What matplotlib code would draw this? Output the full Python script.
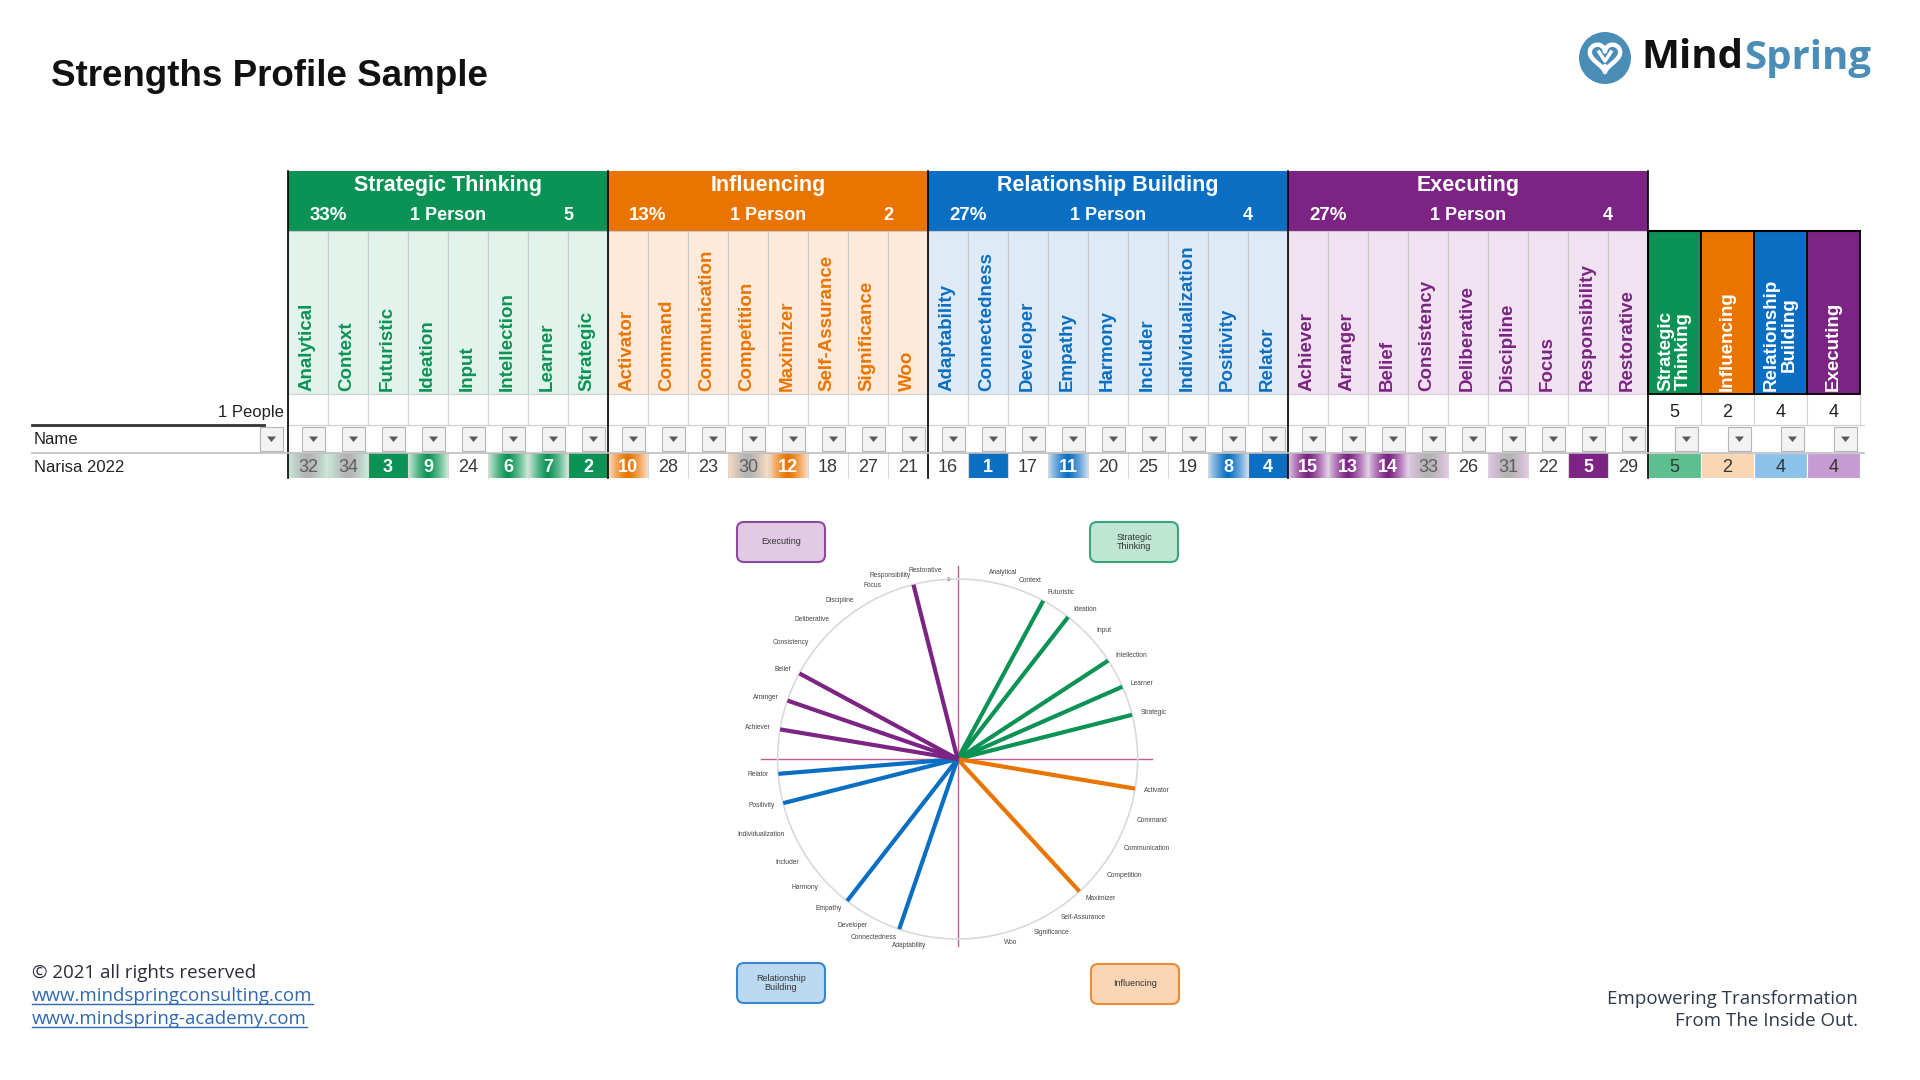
import numpy as np
import matplotlib.pyplot as plt
from matplotlib.patches import Rectangle, FancyBboxPatch, Circle, Polygon
from matplotlib.colors import LinearSegmentedColormap

# ---- data ----
groups = ['Strategic Thinking', 'Influencing', 'Relationship Building', 'Executing']
group_pct = ['33%', '13%', '27%', '27%']
group_people = ['1 Person', '1 Person', '1 Person', '1 Person']
group_counts = [5, 2, 4, 4]
summary_labels = ['Strategic\nThinking', 'Influencing', 'Relationship\nBuilding', 'Executing']

st_themes = ['Analytical', 'Context', 'Futuristic', 'Ideation', 'Input', 'Intellection', 'Learner', 'Strategic']
in_themes = ['Activator', 'Command', 'Communication', 'Competition', 'Maximizer', 'Self-Assurance',
             'Significance', 'Woo']
rb_themes = ['Adaptability', 'Connectedness', 'Developer', 'Empathy', 'Harmony', 'Includer',
             'Individualization', 'Positivity', 'Relator']
ex_themes = ['Achiever', 'Arranger', 'Belief', 'Consistency', 'Deliberative', 'Discipline', 'Focus',
             'Responsibility', 'Restorative']

st_ranks = [32, 34, 3, 9, 24, 6, 7, 2]
in_ranks = [10, 28, 23, 30, 12, 18, 27, 21]
rb_ranks = [16, 1, 17, 11, 20, 25, 19, 8, 4]
ex_ranks = [15, 13, 14, 33, 26, 31, 22, 5, 29]

person_name = 'Narisa 2022'
people_label = '1 People'

themes = [st_themes, in_themes, rb_themes, ex_themes]
ranks = [st_ranks, in_ranks, rb_ranks, ex_ranks]

# ---- style ----
colors = ['#0b9355', '#e97400', '#0a6fc2', '#7b2483']
light = ['#e1f3ea', '#fdeadb', '#deebf7', '#f0e2f0']
edge_tint = ['#c9e9d8', '#fbdcc0', '#c6dcf2', '#e3c6e6']
summ_fill = ['#5dbf8f', '#fad6b3', '#8dc2ea', '#c59bd1']
box_fill = ['#bfe5d3', '#fbd6b4', '#bcd9f2', '#e2c9e6']
box_edge = ['#3aa57a', '#e88b3a', '#3a86c8', '#8e4a9a']

ARIAL = ['Liberation Sans', 'DejaVu Sans']
WEB = ['Open Sans', 'DejaVu Sans']

fig = plt.figure(figsize=(19.2, 10.8), dpi=100)
ax = fig.add_axes([0, 0, 1, 1])
ax.axis('off')

# layout (pixels)
X0, CW, SW = 288, 40, 53
Y_H0, Y_H1, Y_T1, Y_P1, Y_D1, Y_R1 = 171, 231, 394, 425, 453, 478


def gradient(x, y, w, h, c_center, c_edge):
    # colour strongest in the middle, fading to a tint at both sides
    cmap = LinearSegmentedColormap.from_list('g', [c_center, c_edge])
    t = np.linspace(-1, 1, 64)
    ax.imshow(np.abs(t)[None, :] ** 1.3, extent=(x, x + w, y + h, y), cmap=cmap, vmin=0, vmax=1,
              aspect='auto', interpolation='bilinear', zorder=1)


def dropdown(x1, y0):
    bx0, bw, bh = x1 - 26, 23, 24
    ax.add_patch(Rectangle((bx0, y0 + 2), bw, bh, facecolor='#f3f3f3', edgecolor='#b5b5b5', lw=0.8, zorder=3))
    cx, cy = bx0 + bw / 2, y0 + 2 + bh / 2
    ax.add_patch(Polygon([[cx - 4.5, cy - 2.5], [cx + 4.5, cy - 2.5], [cx, cy + 3]], closed=True,
                         facecolor='#5a5a5a', edgecolor='none', zorder=4))


col = 0
for g in range(4):
    n = len(themes[g])
    gx0 = X0 + col * CW
    gx1 = gx0 + n * CW
    ax.add_patch(Rectangle((gx0, Y_H0), n * CW, Y_H1 - Y_H0, facecolor=colors[g], edgecolor='none', zorder=1))
    ax.text((gx0 + gx1) / 2, 185, groups[g], ha='center', va='center', color='white', fontsize=15.5,
            fontweight='bold', family=ARIAL, zorder=5)
    ax.text(gx0 + 40, 215, group_pct[g], ha='center', va='center', color='white', fontsize=13.5,
            fontweight='bold', family=ARIAL, zorder=5)
    ax.text((gx0 + gx1) / 2, 215, group_people[g], ha='center', va='center', color='white', fontsize=13,
            fontweight='bold', family=ARIAL, zorder=5)
    ax.text(gx1 - 40, 215, str(group_counts[g]), ha='center', va='center', color='white', fontsize=13,
            fontweight='bold', family=ARIAL, zorder=5)
    for j, (name, rk) in enumerate(zip(themes[g], ranks[g])):
        x = gx0 + j * CW
        ax.add_patch(Rectangle((x, Y_H1), CW, Y_T1 - Y_H1, facecolor=light[g], edgecolor='#c9c9c9', lw=0.8, zorder=1))
        ax.text(x + CW / 2 - 1, Y_T1 - 3, name, rotation=90, ha='center', va='bottom', color=colors[g],
                fontsize=13.5, fontweight='bold', family=ARIAL, zorder=5)
        ax.add_patch(Rectangle((x, Y_T1), CW, Y_P1 - Y_T1, facecolor='white', edgecolor='#d4d4d4', lw=0.8, zorder=1))
        dropdown(x + CW, Y_P1)
        # data cell
        if rk <= 5:
            ax.add_patch(Rectangle((x, Y_D1), CW, Y_R1 - Y_D1, facecolor=colors[g], edgecolor='none', zorder=1))
        elif rk <= 15:
            gradient(x, Y_D1, CW, Y_R1 - Y_D1, colors[g], edge_tint[g])
        elif rk >= 30:
            gradient(x, Y_D1, CW, Y_R1 - Y_D1, '#b3b3b3', edge_tint[g])
        top = rk <= 15
        ax.text(x + CW / 2, (Y_D1 + Y_R1) / 2 + 2, str(rk), ha='center', va='center',
                color='white' if top else ('#5e5e5e' if rk >= 30 else '#3a3a3a'),
                fontsize=13, fontweight='bold' if top else 'normal', family=ARIAL, zorder=5)
        ax.plot([x + CW, x + CW], [Y_D1, Y_R1], color='#d8d8d8', lw=0.8, zorder=2)
    ax.plot([gx0, gx0], [Y_H0, Y_R1], color='black', lw=1.2, zorder=6)
    col += n

SX0 = X0 + col * CW
ax.plot([SX0, SX0], [Y_H0, Y_R1], color='black', lw=1.2, zorder=6)
ax.plot([SX0, SX0 + 4 * SW], [Y_H1, Y_H1], color='black', lw=1.5, zorder=6)

for k in range(4):
    x = SX0 + k * SW
    ax.add_patch(Rectangle((x, Y_H1), SW, Y_T1 - Y_H1, facecolor=colors[k], edgecolor='black', lw=1.3, zorder=2))
    ax.text(x + SW / 2, Y_T1 - 3, summary_labels[k], rotation=90, ha='center', va='bottom', color='white',
            fontsize=13.5, fontweight='bold', family=ARIAL, linespacing=1.05, zorder=5)
    ax.add_patch(Rectangle((x, Y_T1), SW, Y_P1 - Y_T1, facecolor='white', edgecolor='#d4d4d4', lw=0.8, zorder=1))
    ax.text(x + SW / 2, (Y_T1 + Y_P1) / 2 + 3, str(group_counts[k]), ha='center', va='center', color='#222222',
            fontsize=13, family=ARIAL, zorder=5)
    dropdown(x + SW, Y_P1)
    ax.add_patch(Rectangle((x, Y_D1), SW, Y_R1 - Y_D1, facecolor=summ_fill[k], edgecolor='white', lw=0.8, zorder=1))
    ax.text(x + SW / 2, (Y_D1 + Y_R1) / 2 + 2, str(group_counts[k]), ha='center', va='center', color='#333333',
            fontsize=13, family=ARIAL, zorder=5)

# name column
ax.text(284, 412, people_label, ha='right', va='center', fontsize=12, color='#222222', family=ARIAL)
ax.plot([32, 264], [Y_P1, Y_P1], color='#333333', lw=2, zorder=6)
ax.plot([288, SX0 + 4 * SW + 4], [Y_P1, Y_P1], color='#d0d0d0', lw=0.8, zorder=2)
ax.plot([32, SX0 + 4 * SW + 4], [Y_D1, Y_D1], color='#bdbdbd', lw=1.2, zorder=6)
ax.text(34, 440, 'Name', ha='left', va='center', fontsize=12, color='#222222', family=ARIAL)
dropdown(286, Y_P1)
ax.text(34, 467, person_name, ha='left', va='center', fontsize=12, color='#222222', family=ARIAL)

# title
ax.text(51, 76, 'Strengths Profile Sample', ha='left', va='center', fontsize=26.5, fontweight='bold',
        color='#111111', family=ARIAL)

# radar group boxes
box_pos = [(1090, 522), (1091, 964), (737, 963), (737, 522)]
box_text = ['Strategic\nThinking', 'Influencing', 'Relationship\nBuilding', 'Executing']
for k in range(4):
    bx, by = box_pos[k]
    ax.add_patch(FancyBboxPatch((bx, by), 88, 40, boxstyle='round,pad=0,rounding_size=7',
                                facecolor=box_fill[k], edgecolor=box_edge[k], lw=1.5, zorder=2))
    ax.text(bx + 44, by + 20, box_text[k], ha='center', va='center', fontsize=6.5, color='#333333',
            family=ARIAL, linespacing=1.0, zorder=3)

# logo
lx, ly, lr = 1605, 58, 26
ax.add_patch(Circle((lx, ly), lr, facecolor='#4a8db7', edgecolor='none', zorder=3))
t = np.linspace(0, 2 * np.pi, 200)
hx = 16 * np.sin(t) ** 3
hy = 13 * np.cos(t) - 5 * np.cos(2 * t) - 2 * np.cos(3 * t) - np.cos(4 * t)
s = 0.95
ax.plot(lx + s * hx, ly - s * hy - 2, color='white', lw=3.2, zorder=4, solid_capstyle='round')
ax.plot([lx - 6, lx, lx + 6], [ly - 6, ly + 3, ly - 6], color='white', lw=2.5, zorder=4)
ax.add_patch(Circle((lx, ly + 8), 2.2, facecolor='white', edgecolor='none', zorder=4))

# fix limits before measuring text
ax.set_xlim(0, 1920)
ax.set_ylim(1080, 0)
fig.canvas.draw()
renderer = fig.canvas.get_renderer()

t1 = ax.text(1641, 58, 'Mind', ha='left', va='center', fontsize=29, fontweight='bold', color='#111111',
             family=WEB)
bb = t1.get_window_extent(renderer)
ax.text(bb.x1 + 1, 58, 'Spring', ha='left', va='center', fontsize=29, fontweight='bold', color='#4a8db7',
        family=WEB)

# footer
ax.text(32, 973, '\u00a9 2021 all rights reserved', ha='left', va='center', fontsize=13.5, color='#2a2d3a',
        family=WEB)
for yy, url in [(996, 'www.mindspringconsulting.com'), (1019, 'www.mindspring-academy.com')]:
    tt = ax.text(32, yy, url, ha='left', va='center', fontsize=13.5, color='#3068b0', family=WEB)
    b = tt.get_window_extent(renderer)
    ax.plot([b.x0, b.x1], [1080 - b.y0 - 1, 1080 - b.y0 - 1], color='#3068b0', lw=1)
ax.text(1858, 999, 'Empowering Transformation', ha='right', va='center', fontsize=13.5, color='#2d3a4a',
        family=WEB)
ax.text(1858, 1021, 'From The Inside Out.', ha='right', va='center', fontsize=13.5, color='#2d3a4a',
        family=WEB)

# ---- radar ----
cx, cy, R = 957.6, 759, 180
pax = fig.add_axes([(cx - R) / 1920, 1 - (cy + R) / 1080, 2 * R / 1920, 2 * R / 1080], projection='polar')
pax.set_theta_zero_location('N')
pax.set_theta_direction(-1)
pax.set_ylim(0, 1)
pax.set_xticks([])
pax.set_yticks([])
pax.grid(False)
pax.patch.set_alpha(0)
pax.spines['polar'].set_color('#d9d9d9')
pax.spines['polar'].set_linewidth(1.2)

for a, rr in [(0, 1.07), (np.pi / 2, 1.08), (np.pi, 1.04), (1.5 * np.pi, 1.09)]:
    pax.plot([a, a], [0, rr], color='#c06090', lw=1, clip_on=False, zorder=1)

step = 2 * np.pi / 38
for g in range(4):
    for j, (name, rk) in enumerate(zip(themes[g], ranks[g])):
        th = g * np.pi / 2 + (j + 1) * step
        if rk <= 15:
            pax.plot([th, th], [0, 1], color=colors[g], lw=3, solid_capstyle='butt', zorder=3)
        sn, cs = np.sin(th), np.cos(th)
        if sn > 0.12:
            ha, va = 'left', 'center'
        elif sn < -0.06:
            ha, va = 'right', 'center'
        else:
            ha, va = 'center', ('bottom' if cs > 0 else 'top')
        pax.text(th, 1.05, name, ha=ha, va=va, fontsize=4.8, color='#444444', family=ARIAL)
pax.text(-0.04, 1.0, '1', ha='right', va='center', fontsize=4.5, color='#555555', family=ARIAL)

fig.savefig('out.png', dpi=100)
